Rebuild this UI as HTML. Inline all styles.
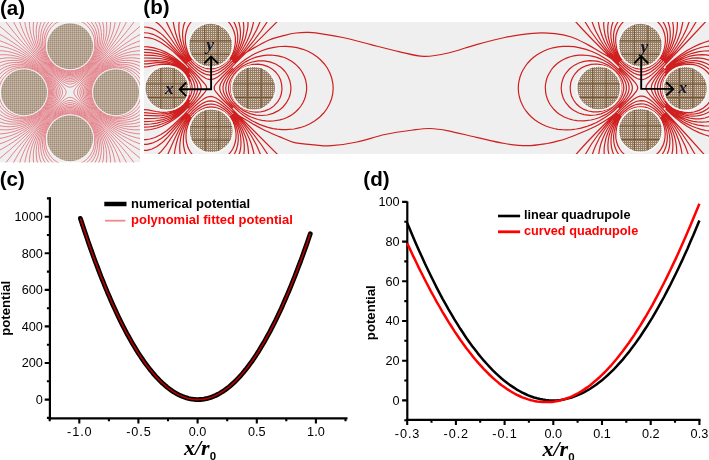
<!DOCTYPE html>
<html><head><meta charset="utf-8"><title>Quadrupole potential figure</title>
<style>html,body{margin:0;padding:0;background:#fff;width:709px;height:460px;overflow:hidden}svg{display:block}</style>
</head><body>
<svg width="709" height="460" viewBox="0 0 709 460">
<rect width="709" height="460" fill="#fff"/>
<defs>
<pattern id="pa" width="2" height="2" patternUnits="userSpaceOnUse"><rect width="2" height="2" fill="#b4a391"/><rect x="0" y="0" width="1" height="1" fill="#a08c78"/><rect x="1" y="1" width="1" height="1" fill="#c8b9aa"/></pattern>
<pattern id="pb" width="2" height="2" patternUnits="userSpaceOnUse"><rect width="2" height="2" fill="#987e63"/><rect x="1" y="1" width="1" height="1" fill="#d8d0c4"/></pattern>
<clipPath id="ca"><rect x="0" y="22" width="140" height="140.5"/></clipPath>
<clipPath id="cb"><rect x="144" y="22" width="565" height="132"/></clipPath>
<clipPath id="cc"><rect x="48" y="190" width="300" height="229"/></clipPath>
<clipPath id="cd"><rect x="406" y="190" width="295" height="230"/></clipPath>
</defs>
<g clip-path="url(#ca)">
<rect x="0" y="22" width="140" height="140.5" fill="#efefef"/>
<path fill="none" stroke="#e2707a" stroke-width="0.85" d="M27.1 115.8L30.1 115.1 32.2 114.4 35 113 37.1 111.8 39.9 109.6 41.4 108.1 44.1 104.6 46.1 100.4 46.9 97.6 47.6 94.1 47.6 90.6 47.3 89.2 46.9 86.4 46.2 84.3 44.8 81.5 44.1 80.1 42.1 77.3 39.2 74.4 34.3 71.1 30.8 69.6 26.6 68.7 23.1 68.4 20.3 68.5 17.5 69 15.4 69.6 13.3 70.3 11.2 71.4 9.1 72.7 7 74.4 4.9 76.4 3.5 78 2.1 80.1 1 82.2 0.1 84.3 -0.5 86.4 -1 88.5 -1.2 91.3 -1.2 94.1 -1 96.2 -0.3 99 0.4 101.1 2.1 104.6 3.6 106.7 4.9 108.3 6.9 110.2 8.7 111.6 11 113 13.3 114.1 16 115.1 18.2 115.6 22.4 116.2 25.2 116.1 27.1 115.8M120.6 115.8L121.8 115.6 124.6 114.9 127.4 113.8 129.5 112.7 131.3 111.6 133.1 110.2 135.1 108.3 136.4 106.7 137.9 104.6 139 102.5 139.9 100.4 140.5 98.3 141 96.2 141.2 93.4 141.2 90.6 141 88.5 140.3 85.7 139.6 83.6 138.7 81.5 137.5 79.4 135.9 77.3 134.6 75.9 130.9 72.7 128.8 71.4 126.7 70.3 124.6 69.6 122.5 69 119.7 68.5 118.3 68.4 112.7 68.8 109.2 69.6 105.7 71.1 100.8 74.4 97.9 77.3 95.9 80.1 95.2 81.5 93.8 84.3 93.1 86.4 92.7 89.2 92.4 90.6 92.4 94.1 93.1 97.6 93.9 100.4 94.5 101.8 96.4 105.3 98.6 108.1 100.1 109.6 103.6 112.3 107.8 114.4 109.9 115.1 113.4 115.9 115.5 116.1 118.3 116.2 120.6 115.8M25 117.2L27.3 116.8 31.5 115.5 34.3 114.2 37.1 112.6 40.2 110.2 42 108.4 44.4 105.3 46.4 101.8 47.6 98.3 48.4 94.8 48.6 92.7 48.5 90.6 47.7 86.4 47 84.3 45.3 80.8 43.5 78 42 76.2 39.5 73.8 37.1 72 34.3 70.3 30.8 68.8 27.3 67.8 23.8 67.3 20.3 67.2 16.8 67.6 13.3 68.5 10.4 69.6 7.7 71.1 4.9 73.1 2.6 75.2 0.3 78 -1.4 80.8M-1.4 103.8L0.9 107.4 3.4 110.2 6.3 112.5 9.4 114.4 13.3 116 16.8 116.9 21.7 117.4 25 117.2M121.1 117.2L123.9 116.8 127.3 115.8 130.2 114.6 133 113 135.8 110.9 137.9 108.8 139.6 106.7 141.4 103.8M141.4 80.8L139.7 78 137.4 75.2 135.1 73.1 132.2 71 128.8 69.3 126 68.2 122.5 67.5 119 67.2 115.5 67.4 112.7 67.8 109.2 68.8 105 70.7 100.8 73.5 99 75.2 97 77.3 94.7 80.8 93.3 83.6 92.3 86.4 91.5 90.6 91.4 92.7 91.5 94.1 92 96.9 93.1 100.4 94.4 103.2 95.9 105.7 98.4 108.8 100.1 110.5 103.6 113.1 107.1 114.9 109.9 116 114.1 117.1 117.6 117.4 121.1 117.2M23.2 118.6L26.6 118 30.1 117 33.6 115.5 36.4 113.9 39.9 111.3 41.9 109.5 44.2 106.7 45.7 104.6 47.2 101.8 48.3 99 49.2 95.5 49.5 92.7 49.3 89.9 48.6 86.4 47.6 83.6 46.2 80.8 44.3 78 42 75.2 39.9 73.2 36.4 70.6 33.6 69 30.8 67.8 26.6 66.5 23.1 66 19.6 65.8 16.1 66 12.6 66.7 9.8 67.6 6.3 69.2 3.5 71 0.9 73.1 -1.4 75.5M-1.4 109.1L1 111.6 3.7 113.7 6.3 115.3 9.8 116.9 12.6 117.8 16.1 118.5 19.6 118.7 23.2 118.6M122.7 118.6L125.3 118.2 128.1 117.6 130.9 116.6 133 115.7 135.3 114.4 137.3 113 139.7 110.9 141.4 109.1M141.4 75.5L139.1 73.1 135.8 70.5 133 68.9 129.5 67.4 126 66.4 122.5 65.9 119 65.8 114.8 66.3 111.3 67.1 107.8 68.4 104.3 70.2 100.8 72.7 98 75.2 96.2 77.3 94.3 80.1 92.4 83.6 91.4 86.4 90.7 89.9 90.5 92.7 90.8 95.5 91.7 99 93.1 102.5 94.8 105.3 97.5 108.8 99.4 110.7 102.9 113.5 106.4 115.5 109.2 116.8 112.7 117.9 115.5 118.4 119 118.7 122.7 118.6M22.7 120L25.9 119.4 29.4 118.3 32.9 116.8 35.7 115.3 38.5 113.4 41.3 111 43.4 108.8 45.7 106 47.4 103.2 48.7 100.4 49.9 96.9 50.4 94.1 50.5 91.3 50.1 88.5 49.4 85.7 48.2 82.9 46.2 79.4 44.2 76.6 42 74.2 39.2 71.7 35.7 69.3 32.9 67.7 29.4 66.3 25.9 65.2 21.7 64.4 18.2 64.2 14.7 64.4 11.2 65 7.7 66 4.2 67.4 1.4 69 -1.4 71.1M-1.4 113.5L0.8 115.1 3.5 116.7 6.3 118 9.8 119.2 12.6 119.8 16.1 120.2 19.6 120.3 22.7 120M126.3 120L130.2 119.2 134.4 117.8 138.2 115.8 141.4 113.5M141.4 71.1L138.4 68.9 135.1 67.1 131.6 65.7 128.1 64.8 124.6 64.3 120.4 64.3 116.9 64.6 112.7 65.6 108.5 67.1 105 68.9 101.5 71.2 98.7 73.5 95.9 76.5 93.8 79.4 91.8 82.9 90.4 86.4 89.7 89.9 89.5 92.7 89.8 95.5 90.7 99 92.2 102.5 93.9 105.3 96.6 108.8 98.7 111 102.2 113.9 105 115.7 108.5 117.5 112 118.8 115.5 119.7 119 120.2 122.5 120.3 126.3 120M22.8 121.4L26.6 120.4 30.1 119.2 33.6 117.5 36.4 115.8 39.2 113.8 42 111.3 44.4 108.8 46.6 106 48.7 102.5 50 99.7 50.9 96.9 51.5 94.1 51.6 92 51.3 89.2 50.6 86.4 49.5 83.6 48 80.8 45.6 77.3 43.3 74.5 40.6 72 37.1 69.2 34.3 67.5 30.8 65.7 27.3 64.4 23.8 63.4 20.3 62.7 16.1 62.4 12.6 62.6 9.1 63 5.3 64 1.7 65.4 -1.4 67M-1.4 117.5L1.4 119 3.8 120 7 121 9.8 121.6 12.6 122 16.1 122.1 19.6 121.9 22.8 121.4M131.3 121.4L133.7 120.8 136.5 119.9 139.3 118.7 141.4 117.5M141.4 67L137.9 65.2 133.7 63.7 130.2 62.9 126 62.5 121.8 62.5 117.6 63.1 113.4 64.1 109.9 65.4 106.4 67.1 102.9 69.2 99.4 72 96.1 75.2 93.3 78.7 91.2 82.2 89.6 85.7 88.7 89.2 88.4 92.7 88.7 95.5 89.7 99 91.3 102.5 93.4 106 95.6 108.8 98.3 111.6 101.5 114.3 104.3 116.2 107.8 118.2 111.3 119.7 115.5 121 119 121.7 123.2 122.1 127.4 122 131.3 121.4M13 124.2L16.8 124 21 123.3 24.5 122.4 28 121.2 31.5 119.6 35 117.7 38.5 115.3 42 112.3 44.8 109.5 47 106.7 49.3 103.2 50.8 100.4 52 96.9 52.6 94.1 52.7 91.3 52.3 88.5 51.4 85.7 49.8 82.2 47.6 78.7 44.8 75.1 42 72.2 38.5 69.3 35 66.9 30.8 64.6 27.3 63.1 23.1 61.7 18.9 60.8 14.7 60.4 10.5 60.4 6.3 60.9 2.1 61.8 -1.4 63.1M-1.4 121.4L2.1 122.7 5.6 123.5 9.1 124 13 124.2M127.7 124.2L130.9 124 134.6 123.5 137.9 122.7 141.4 121.4M141.4 63.1L137.9 61.8 133.7 60.9 129.5 60.4 125.3 60.4 121.1 60.8 116.9 61.7 112.7 63.1 109.2 64.6 105 66.9 101.5 69.3 98 72.2 95.2 75.1 92.4 78.7 90.2 82.2 88.6 85.7 87.7 88.5 87.3 91.3 87.4 94.1 88 96.9 89.2 100.4 90.7 103.2 93 106.7 95.9 110.2 98.7 113 101.5 115.3 105 117.7 108.5 119.6 112.7 121.5 116.2 122.7 120.4 123.6 123.9 124.1 127.7 124.2M15.1 126.3L18.9 125.6 22.4 124.7 26.6 123.2 30.1 121.6 33.6 119.6 37.1 117.3 40.6 114.6 43.4 112 46.3 108.8 48.5 106 50.8 102.5 52.2 99.7 53.2 96.9 53.8 94.1 53.9 91.3 53.5 88.5 52.6 85.7 50.9 82.2 48.6 78.7 45.5 74.8 42.7 71.9 39.2 68.8 35.7 66.3 31.5 63.7 27.3 61.7 23.1 60.1 18.9 58.9 14.7 58.2 10.5 57.8 6.3 57.9 2.1 58.4 -1.4 59.1M-1.4 125.4L2.8 126.3 7 126.7 11.2 126.7 15.1 126.3M137.1 126.3L141.4 125.4M141.4 59.1L137.2 58.3 133 57.8 128.8 57.9 124.6 58.3 119.7 59.3 115.5 60.6 111.3 62.3 107.1 64.5 102.9 67.2 98.7 70.6 95.4 73.8 92.4 77.3 90 80.8 88 84.3 86.7 87.8 86.1 91.3 86.2 94.1 87 97.6 88.5 101.1 90.5 104.6 93.1 108.1 96.2 111.6 99.4 114.6 103.6 117.8 107.8 120.4 111.3 122.2 115.5 124 119.7 125.3 123.9 126.1 128.8 126.7 133 126.7 137.1 126.3M6.7 129.8L11.2 129.4 15.4 128.6 19.6 127.4 23.8 125.9 28 124 32.2 121.7 35.7 119.4 39.2 116.7 42.7 113.7 46.1 110.2 49 106.7 51.5 103.2 53.4 99.7 54.5 96.9 55.2 93.4 55.1 90.6 54.5 87.8 53.1 84.3 51.1 80.8 48.1 76.6 45 73.1 41.3 69.6 37.8 66.7 33.6 63.8 29.4 61.3 25.2 59.3 20.3 57.4 16.1 56.2 11.2 55.2 7 54.8 2.8 54.7 -1.4 55M-1.4 129.5L2.8 129.8 6.7 129.8M138.3 129.8L141.4 129.5M141.4 55L137.2 54.7 132.3 54.8 128.1 55.3 123.2 56.3 118.3 57.9 114.1 59.6 109.9 61.7 105.7 64.2 101.5 67.2 97.3 70.8 93.7 74.5 90.8 78 88 82.2 86.2 85.7 85.1 89.2 84.8 92 85 94.8 86 98.3 87.7 101.8 89.9 105.3 93.2 109.5 96.6 113 100.1 116.2 104.3 119.4 108.5 122.1 112.7 124.3 116.9 126.2 121.1 127.6 125.3 128.7 129.5 129.4 133.7 129.8 138.3 129.8M6 133.3L10.5 132.4 14.7 131.3 18.9 129.8 23.1 128 27.3 125.9 31.5 123.4 35.7 120.5 39.2 117.8 43.1 114.4 46.5 110.9 50.1 106.7 52.6 103.2 54.7 99.7 55.9 96.9 56.5 94.1 56.6 91.3 56.1 88.5 54.8 85 52.8 81.5 50.2 78 46.7 73.8 42.7 69.8 38.5 66.2 34.3 63 30.1 60.3 25.9 57.9 21.7 55.9 16.8 54 11.9 52.5 7.7 51.5 2.8 50.9 -1.4 50.6M-1.4 133.9L2.1 133.8 6 133.3M141.4 50.6L137.2 50.9 132.3 51.5 128.1 52.5 123.2 54 118.3 55.9 114.1 57.9 109.2 60.7 105 63.5 100.8 66.7 96.6 70.5 92.7 74.5 89.2 78.7 86.8 82.2 84.9 85.7 83.7 89.2 83.3 92 83.6 94.8 84.7 98.3 86.5 101.8 89.3 106 92.8 110.2 96.6 114.1 100.8 117.8 105 121.1 109.2 123.9 114.1 126.7 118.3 128.7 123.2 130.6 128.1 132.1 132.3 133 137.2 133.7 141.4 133.9M-1.4 138.7L3.5 137.8 8.4 136.4 12.6 135 17.5 132.9 21.7 130.8 26.6 128.1 30.8 125.4 35.7 121.8 40.6 117.7 44.9 113.7 49.5 108.8 52.9 104.6 55.3 101.1 57.1 97.6 58 94.8 58.3 92 57.9 89.2 56.9 86.4 55 82.9 52.5 79.4 49 75.2 44.8 70.8 40.6 66.8 35.7 62.8 31.5 59.7 26.6 56.5 21.7 53.7 17.5 51.6 12.6 49.6 8.4 48.1 3.5 46.8 -1.4 45.8M141.4 45.8L136.5 46.8 131.6 48.1 127.4 49.6 122.5 51.6 118.3 53.7 113.4 56.5 108.5 59.7 104.3 62.8 99.4 66.8 95.2 70.8 91 75.2 87.5 79.4 85 82.9 83.1 86.4 82.1 89.2 81.7 92 82 94.8 82.9 97.6 84.7 101.1 87.1 104.6 90.5 108.8 95.1 113.7 99.4 117.7 104.3 121.8 109.2 125.4 113.4 128.1 118.3 130.8 122.5 132.9 127.4 135 131.6 136.4 136.5 137.8 141.4 138.7M-1.4 144.2L2.8 142.8 7.7 140.8 12.6 138.4 17.5 135.8 22.4 132.8 27.3 129.5 32.2 125.9 37.1 121.9 42 117.5 46.7 113 51.2 108.1 54.7 103.9 57.2 100.4 59.1 96.9 60 94.1 60.2 92 59.7 89.2 58.6 86.4 56.9 83.6 54.3 80.1 50.7 75.9 46.1 71 41.3 66.4 36.4 62.1 31.5 58.1 26.6 54.5 22.4 51.7 17.5 48.8 12.6 46.1 8.4 44.1 3.5 42.1 -1.4 40.3M141.4 40.3L136.5 42.1 131.6 44.1 127.4 46.1 122.5 48.8 117.6 51.7 113.4 54.5 108.5 58.1 103.6 62.1 98.7 66.4 93.9 71 89.3 75.9 85.7 80.1 83.1 83.6 81.4 86.4 80.3 89.2 79.8 92 80 94.1 80.9 96.9 82.8 100.4 85.3 103.9 88.8 108.1 93.3 113 98 117.5 102.9 121.9 107.8 125.9 112.7 129.5 117.6 132.8 122.5 135.8 127.4 138.4 132.3 140.8 137.2 142.8 141.4 144.2M-1.4 150.8L7.7 145.6 13.3 142 18.2 138.6 28 131.1 32.9 126.9 38.5 121.9 44.1 116.6 49.1 111.6 54.3 106 57.9 101.8 59.9 99 61.5 96.2 62.3 94.1 62.5 92 62.2 89.9 61.3 87.8 59.6 85 56.9 81.5 53.2 77.3 48.6 72.4 43.4 67.2 37.8 62 28 53.5 18.2 46 8.4 39.4 3.5 36.4 -1.4 33.8M141.4 33.8L136.5 36.4 131.6 39.4 121.8 46 112 53.5 102.2 62 96.6 67.2 91.4 72.4 86.8 77.3 83.1 81.5 80.4 85 78.7 87.8 77.8 89.9 77.5 92 77.7 94.1 78.5 96.2 80.1 99 82.1 101.8 85.7 106 90.9 111.6 95.9 116.6 101.5 121.9 107.1 126.9 112 131.1 121.8 138.6 126.7 142 132.3 145.6 141.4 150.8M-1.4 159.4L9.8 149.9 21.7 139.2 33.6 128 46.2 115.6 57 104.6 62.8 98.3 65.4 94.8 66 93.4 66.1 92 65.8 90.6 65.1 89.2 64.1 87.8 61.8 85 55.2 78 44.1 66.8 31.5 54.5 20.3 44.1 9.1 34.1 -1.4 25.2M141.4 25.2L130.9 34.1 119.7 44.1 108.5 54.5 95.9 66.8 84.8 78 78.2 85 75.9 87.8 74.9 89.2 74.2 90.6 73.9 92 74 93.4 74.6 94.8 77.2 98.3 83 104.6 93.8 115.6 106.4 128 118.3 139.2 130.2 149.9 141.4 159.4M70.7 87.1L69.3 87.1 67.2 86.5 65.1 85.2 63 83.6 55.3 76.7 44.5 66.1 33.2 54.2 22.4 42.3 13 31.1 4.9 20.6M135.1 20.6L127.5 30.4 119.4 40.2 109.4 51.4 98.9 62.6 88.2 73.3 79.1 81.8 76.3 84.2 74.2 85.7 72.1 86.8 70.7 87.1M4.9 164L12.4 154.3 21.1 143.8 31.7 131.9 43 120 54.6 108.5 62.3 101.5 64.4 99.8 66.5 98.4 68.6 97.5 70 97.3 71.4 97.5 73.5 98.4 75.6 99.8 77.7 101.5 85.4 108.5 97 120 108.3 131.9 118.9 143.8 127.6 154.3 135.1 164M72.8 83.6L70.7 84.1 69.3 84.1 67.9 83.8 65.1 82.7 62.3 81 58.8 78.4 53.9 74.1 49 69.5 43.6 64 39.1 59.1 34.4 53.5 29.9 47.9 25.8 42.3 22 36.7 18.5 31.1 15.8 26.2 12.9 20.6M127.1 20.6L125 24.8 122.3 29.7 116.6 38.8 110.1 47.9 102.7 57 98.3 61.9 93.7 66.8 88.9 71.5 84.7 75.4 81.2 78.4 77.7 81 74.9 82.7 72.8 83.6M13.2 163.4L15.7 158.5 18.5 153.6 21.5 148.7 24.7 143.8 28.2 138.9 32.6 133.3 40.9 123.5 45.5 118.6 50.4 113.7 55.3 109.1 59.5 105.6 63 103 65.8 101.4 67.9 100.7 70 100.4 72.1 100.7 74.2 101.4 77 103 80.5 105.6 84.7 109.1 89.6 113.7 94.5 118.6 99.1 123.5 107.4 133.3 111.8 138.9 115.3 143.8 118.5 148.7 121.5 153.6 124.3 158.5 126.8 163.4M72.8 81.5L70 81.9 67.2 81.5 64.4 80.5 60.9 78.4 56.7 75.3 51.8 71.1 47.4 66.8 42.9 61.9 38.7 57 35 52.1 31.2 46.5 28.3 41.6 25.6 36.7 23 31.1 20.8 25.5 19.3 20.6M120.7 20.6L119.4 24.8 117.9 29 115.8 33.9 113.7 38.1 110.9 43 108.3 47.2 105.5 51.4 101.8 56.3 97.8 61.2 93.9 65.4 89.6 69.7 85.4 73.6 81.9 76.4 78.4 78.9 75.6 80.5 72.8 81.5M19.5 163.4L21 158.5 23 153.6 25.2 148.7 27.8 143.8 30.7 138.9 33.9 134 37.5 129.1 40.9 124.9 45.2 120 49.3 115.8 53.9 111.6 58.1 108.1 61.6 105.6 64.4 104 67.2 103 70 102.6 72.8 103 75.6 104 78.4 105.6 81.9 108.1 86.1 111.6 90.7 115.8 94.8 120 99.1 124.9 102.5 129.1 106.1 134 109.3 138.9 112.2 143.8 114.8 148.7 117 153.6 119 158.5 120.5 163.4M73.5 79.6L70.7 80.1 68.6 80 67.2 79.8 64.4 78.8 60.9 77 56.7 74.1 51.8 70 47.1 65.4 42.8 60.5 39.6 56.3 36.2 51.4 33.3 46.5 30.5 40.9 28.5 36 26.8 31.1 25.4 25.5 24.6 20.6M115.4 20.6L114.7 24.8 113.8 29 112.3 33.9 110.7 38.1 108.8 42.3 106.3 47.2 103.8 51.4 100.9 55.6 97.8 59.8 94.2 64 90.3 68 86.8 71.2 82.6 74.6 79.1 77 76.3 78.5 73.5 79.6M24.7 163.4L25.6 158.5 26.8 153.6 28.4 148.7 30.2 144.5 32.5 139.6 34.9 135.4 38 130.5 41 126.3 45 121.4 49 117.2 53.2 113.3 57.4 109.9 60.9 107.5 64.4 105.7 67.2 104.8 70 104.4 72.8 104.8 75.6 105.7 79.1 107.5 82.6 109.9 86.8 113.3 91 117.2 95 121.4 99 126.3 102 130.5 105.1 135.4 107.5 139.6 109.8 144.5 111.6 148.7 113.2 153.6 114.4 158.5 115.3 163.4M73.5 78.1L70.7 78.5 68.6 78.4 67.2 78.2 63.7 77.1 60.2 75.3 55.3 71.9 51.1 68.3 46.9 64 43.4 59.8 40.4 55.6 37.4 50.7 34.6 45.1 32.7 40.2 31.2 35.3 30.1 30.4 29.5 25.5 29.4 20.6M110.6 20.6L110.5 24.8 110.1 29 109.3 33.2 108 38.1 106.5 42.3 104.7 46.5 102.6 50.7 100.1 54.9 97.1 59.1 94.3 62.6 91 66.2 87.5 69.5 83.3 72.9 79.8 75.3 76.3 77.1 73.5 78.1M29.4 163.5L29.5 159.2 30.1 154.3 31.1 149.4 32.4 145.2 34 141 36.2 136.1 39 131.2 41.7 127 44.9 122.8 48.7 118.6 52.5 115 56.7 111.5 60.2 109.2 63.7 107.4 67.2 106.3 70 106 72.8 106.3 76.3 107.4 79.8 109.2 83.3 111.5 87.5 115 91.3 118.6 95.1 122.8 98.3 127 101 131.2 103.8 136.1 106 141 107.6 145.2 108.9 149.4 109.9 154.3 110.5 159.2 110.6 163.5M73.5 76.7L70 77.1 66.5 76.7 63 75.5 59.5 73.7 55.3 70.8 51.1 67.2 47.3 63.3 43.5 58.4 40.8 54.2 38.2 49.3 36.2 44.4 34.7 39.5 33.7 34.6 33.2 29.7 33.3 24.8 33.7 20.6M106.3 20.6L106.7 24.8 106.8 29 106.5 33.2 105.8 37.4 104.7 41.6 103.3 45.8 101.4 50 99.2 54.2 96.5 58.4 93.9 61.9 90.8 65.4 87.5 68.5 84 71.3 79.8 74.1 76.3 75.8 73.5 76.7M33.7 163.4L33.3 159.2 33.3 154.3 33.8 149.4 34.7 145.2 36.2 140.3 37.9 136.1 39.9 131.9 42.4 127.7 45.4 123.5 48.4 120 51.8 116.6 56 113.1 60.2 110.4 63.7 108.7 67.2 107.7 70 107.4 72.8 107.7 76.3 108.7 79.8 110.4 84 113.1 88.2 116.6 91.6 120 94.6 123.5 97.6 127.7 100.1 131.9 102.1 136.1 103.8 140.3 105.3 145.2 106.2 149.4 106.7 154.3 106.7 159.2 106.3 163.4M74.2 75.3L70.7 75.8 67.2 75.6 63.7 74.6 59.5 72.6 55.3 69.8 51.1 66.2 47.7 62.6 44.5 58.4 42 54.2 39.7 49.3 38 44.4 36.8 39.5 36.3 34.6 36.2 29.7 36.8 24.8 37.8 20.6M102.2 20.6L103.1 24.1 103.7 28.3 103.8 32.5 103.6 36.7 102.9 40.9 101.8 45.1 100.3 49.3 98.4 53.5 95.9 57.7 93.4 61.2 90.4 64.7 87.5 67.5 84 70.3 80.5 72.6 77 74.3 74.2 75.3M37.8 163.8L36.7 159.2 36.3 155 36.2 150.8 36.7 145.9 37.6 141.7 39.1 136.8 40.9 132.6 43.1 128.4 45.9 124.2 48.8 120.7 52.3 117.2 56 114.2 59.5 111.9 63 110.2 66.5 109.1 70 108.7 73.5 109.1 77 110.2 80.5 111.9 84 114.2 87.7 117.2 91.2 120.7 94.1 124.2 96.9 128.4 99.1 132.6 100.9 136.8 102.4 141.7 103.3 145.9 103.8 150.8 103.7 155 103.3 159.2 102.2 163.8M71.4 74.6L67.9 74.5 64.4 73.7 60.9 72.3 56.7 69.8 53.2 67.1 49.7 63.7 46.5 59.8 43.9 55.6 41.9 51.4 40.2 46.5 39.1 41.6 38.6 37.4 38.7 33.2 39.2 28.8 40.2 24.8 41.8 20.6M98.2 20.6L99.6 24.1 100.7 28.3 101.3 32.5 101.4 36.7 101 40.9 100 45.8 98.7 50 96.9 54.2 94.4 58.4 91.9 61.9 88.7 65.4 85.4 68.3 81.9 70.7 78.4 72.6 74.9 73.9 71.4 74.6M41.6 163.4L40 159.2 39.1 155 38.6 150.8 38.7 146.6 39.3 141.7 40.3 137.5 41.8 133.3 43.8 129.1 46.4 124.9 49.1 121.4 52.5 118 56 115.1 59.5 112.9 63 111.3 66.5 110.3 70 109.9 73.5 110.3 77 111.3 80.5 112.9 84 115.1 87.5 118 90.9 121.4 93.6 124.9 96.2 129.1 98.2 133.3 99.7 137.5 100.7 141.7 101.3 146.6 101.4 150.8 100.9 155 100 159.2 98.4 163.4M73.5 73.2L71.4 73.5 69.3 73.5 65.8 73 62.3 71.9 58.1 69.8 54.6 67.3 50.9 64 47.5 59.8 44.9 55.6 43 51.4 41.6 46.5 40.8 41.6 40.6 37.4 41.1 32.5 42.1 28.3 43.8 24.1 45.8 20.6M94.2 20.6L96.2 24.1 97.6 27.6 98.6 31.1 99.2 35.3 99.3 39.5 98.9 43.7 98 47.9 96.7 52.1 95.1 55.6 93 59.1 90.3 62.6 87.5 65.5 84 68.4 80.5 70.6 77 72.2 73.5 73.2M45.5 163.4L43.6 159.9 42.2 156.4 41.2 152.2 40.7 148 40.7 143.8 41.4 138.9 42.5 134.7 44.2 130.5 46.4 126.3 48.9 122.8 51.8 119.6 55.3 116.6 58.8 114.3 63 112.3 66.5 111.3 70 111 73.5 111.3 77 112.3 81.2 114.3 84.7 116.6 88.2 119.6 91.1 122.8 93.6 126.3 95.8 130.5 97.5 134.7 98.6 138.9 99.3 143.8 99.3 148 98.8 152.2 97.8 156.4 96.4 159.9 94.5 163.4M71.4 72.4L69.3 72.5 67.2 72.3 63.7 71.4 60.2 70 56 67.5 52.5 64.6 49.5 61.2 47 57.7 44.9 53.5 43.6 49.3 42.6 44.4 42.4 40.2 42.7 36 43.6 31.8 45.3 27.6 47.2 24.1 49.9 20.6M90.1 20.6L92.8 24.1 94.7 27.6 96.1 31.1 97.2 35.3 97.6 38.8 97.5 43 96.8 47.9 95.6 52.1 94.1 55.6 92.1 59.1 88.7 63.3 86.1 65.8 82.6 68.4 78.4 70.6 74.9 71.8 71.4 72.4M49.7 163.6L46.9 159.9 45 156.4 43.7 152.9 42.8 148.7 42.4 144.5 42.6 140.3 43.4 136.1 44.6 131.9 46.5 127.7 49.3 123.5 51.8 120.6 55.3 117.6 58.8 115.2 63 113.3 66.5 112.4 70 112.1 73.5 112.4 77 113.3 81.2 115.2 84.7 117.6 88.2 120.6 90.7 123.5 93.5 127.7 95.4 131.9 96.6 136.1 97.4 140.3 97.6 144.5 97.2 148.7 96.3 152.9 95 156.4 93.1 159.9 90.3 163.6M74.2 71L70.7 71.5 68.6 71.4 66.5 71.2 63.7 70.5 61.6 69.7 57.4 67.5 53.2 64.3 51 61.9 47.9 57.7 45.9 53.5 45.2 51.4 44.7 49.3 44 43.7 44.1 39.5 44.8 35.3 46.3 31.1 48.3 27.3 51.1 23.7 52.9 22 54.6 20.6M85.4 20.6L88.2 23 91 26.3 93.1 29.7 94.6 33.2 95.5 36.7 96 40.9 95.9 45.1 95.2 50 94.1 53.5 92.5 57 90.3 60.3 87.5 63.6 84 66.6 81.2 68.3 77.7 70 74.2 71M54.6 163.9L51.8 161.5 49 158.2 46.9 154.8 45.3 150.8 44.3 146.6 43.9 142.4 44.3 137.5 45.2 133.3 46.8 129.1 48.7 125.6 51.3 122.1 54.6 119 58.1 116.5 60.2 115.4 62.3 114.5 65.8 113.5 70 113.1 74.2 113.5 77.7 114.5 79.8 115.4 81.9 116.5 85.4 119 88.7 122.1 91.3 125.6 93.2 129.1 94.8 133.3 95.7 137.5 96.1 142.4 95.7 146.6 94.7 150.8 93.1 154.8 91 158.2 88.2 161.5 85.4 163.9M72.8 70.4L70.7 70.5 67.9 70.4 66.5 70.3 64.4 69.8 60.9 68.5 56.7 66.2 53.2 63.4 50.2 59.8 48 56.3 46.9 53.5 46.2 51.4 45.5 46.5 45.4 41.6 46.1 37.4 47.6 33.2 49.7 29.5 51.1 27.6 53.2 25.4 54.6 24.1 56.7 22.6 60.5 20.6M79.5 20.6L83.3 22.6 86.2 24.8 87.6 26.2 89.4 28.3 91.7 31.8 93.5 36 94.1 38.1 94.5 40.2 94.7 43.7 94.2 49.3 93.8 51.4 93.4 52.8 91.6 57 89.8 59.8 86.8 63.4 83.3 66.2 79.8 68.2 76.3 69.6 72.8 70.4M60.2 163.8L58.1 162.7 56 161.4 54 159.9 52.5 158.5 49.7 155.1 47.7 151.5 46.8 149.4 46.2 147.3 45.4 143.1 45.4 138.9 46 134 46.6 131.9 47.7 129.1 49.1 126.3 51.6 122.8 54.6 119.9 58.1 117.3 60.2 116.2 62.3 115.4 65.8 114.4 70 114.1 74.2 114.4 77.7 115.4 79.8 116.2 81.9 117.3 85.4 119.9 88.4 122.8 90.9 126.3 92.3 129.1 93.4 131.9 94 134 94.6 138.9 94.6 143.1 93.8 147.3 93.2 149.4 92.3 151.5 90.3 155.1 87.5 158.5 86 159.9 84 161.4 81.9 162.7 79.8 163.8"/>
<circle cx="70" cy="46.25" r="24" fill="#f3f3f3"/>
<circle cx="70" cy="46.25" r="23" fill="url(#pa)"/>
<circle cx="70" cy="138.25" r="24" fill="#f3f3f3"/>
<circle cx="70" cy="138.25" r="23" fill="url(#pa)"/>
<circle cx="24" cy="92.25" r="24" fill="#f3f3f3"/>
<circle cx="24" cy="92.25" r="23" fill="url(#pa)"/>
<circle cx="116" cy="92.25" r="24" fill="#f3f3f3"/>
<circle cx="116" cy="92.25" r="23" fill="url(#pa)"/>
</g>
<g clip-path="url(#cb)">
<rect x="144" y="22" width="565" height="132" fill="#efefef"/>
<path fill="none" stroke="#cf1f1f" stroke-width="1.2" d="M618.7 108L625.3 101 629.2 96 631.5 92 632.1 90 632.4 88 632.2 86 631.6 84 629.5 80 625.6 75 619 68M233 67.8L227.3 74 222.7 80 220.5 84 219.9 86 219.7 88 219.9 90 220.5 92 222.7 96 227.3 102 233 108M664 67.9L658.6 74 654.1 80 652 84 651.5 86 651.3 88 651.5 90 652.1 92 654.1 96 658.5 102 664 108.2M188 108.3L193.7 102 198.2 96 200.3 92 200.9 90 201.1 88 200.9 86 200.2 84 198 80 193.4 74 187.8 68M710 45.9L706 46.5 701 47.5 697 48.7 692 50.6 688 52.4 683 55.1 679 57.5 674 61.1 670 64.3 666 68.1 662.4 72 659.3 76 657.4 79 655.9 82 654.9 85 654.6 88 654.9 91 655.9 94 657.3 97 659.9 101 663.1 105 667 109.2 671 112.9 675 116.2 683 121.7 688 124.4 692 126.3 696 127.8 701 129.4 706 130.5 710 131.1M294.1 129L300 127.7 305.1 126 310 123.8 315 120.8 319.8 117 323.7 113 326.7 109 329.5 104 331.5 99 332.7 94 333.2 88 332.8 83 331.7 78 329.9 73 327.3 68 324.4 64 320.7 60 317.3 57 313 54 308 51.3 303 49.3 297 47.6 292 46.8 286 46.3 280 46.5 274 47.3 268 48.6 263 50.2 257 52.7 252 55.2 246 58.9 241 62.6 235 67.9 230.3 73 226 79 224.4 82 223.6 84 223.1 86 223 88 223.1 90 223.6 92 224.3 94 225.9 97 229.4 102 232 105 236 109 240 112.6 244 115.7 252 120.8 260 124.6 268 127.4 273 128.6 277 129.2 282 129.7 286 129.7 294.1 129M576.4 129L581 128.1 586 126.7 591 124.9 596 122.7 600 120.6 605 117.6 610 114 614 110.7 618.8 106 622.4 102 625.4 98 627.2 95 628.5 92 629.1 89 629 86 628.3 83 626.3 79 623.5 75 619.1 70 614 65.1 609 61.1 604 57.7 598 54.3 592 51.5 586 49.4 580 47.8 574 46.7 569 46.3 563 46.4 558 46.9 553 47.8 548 49.3 543.9 51 540 53 536.7 55 533 57.8 530.6 60 527.8 63 525.5 66 523 70 521.5 73 520 77 519 81 518.4 85 518.3 89 518.6 93 519.4 97 520.6 101 522.4 105 524 108 526 111 528.5 114 531.4 117 535 120 538 122 542 124.3 545.8 126 550 127.5 554 128.5 558 129.3 562 129.7 567 129.9 572 129.6 576.4 129M148.7 127L153 126.4 157 125.6 161 124.3 165 122.8 169 120.9 173 118.6 180 113.6 184 110.2 187.2 107 190.7 103 193.7 99 195.5 96 196.8 93 197.6 90 197.7 87 197.1 84 195.8 81 194.1 78 191.2 74 187.7 70 184 66.4 180 62.9 176 59.9 172 57.4 168 55.2 164 53.4 160 52 156 50.9 152 50.1 148 49.6 143 49.5M143 127.2L148.7 127M705.7 122L710 121.4M710 55.5L706 54.9 702 54.6 698 54.8 694 55.3 690 56.2 686 57.5 681 59.6 677 61.7 673 64.4 669 67.6 666 70.6 663.1 74 660.5 78 659 81 658 84 657.5 87 657.6 90 658.2 93 659.3 96 661.5 100 663.6 103 667 106.9 670 109.7 674 112.9 678 115.5 681 117.1 685 118.9 689 120.3 693 121.3 697 121.9 701 122.2 705.7 122M155.3 121L163 119.6 167 118.3 171 116.7 175 114.6 178 112.7 184 107.9 186.8 105 189.3 102 191.3 99 192.9 96 194.1 93 194.8 90 194.9 88 194.6 85 193.7 82 192.3 79 190.4 76 188.1 73 185.4 70 182 66.8 179 64.5 175 61.9 172 60.3 168 58.6 161 56.5 153 55.4 143 55M143 121.6L149 121.5 155.3 121M273.2 121L280 119.9 284 118.7 287 117.5 290 115.9 293 114 296 111.5 298.5 109 300.9 106 302.8 103 304.2 100 305.3 97 306.2 93 306.6 90 306.6 86 306.2 83 305.6 80 304.6 77 303.2 74 301.5 71 299.2 68 297 65.6 294 63 291.2 61 288 59.2 285 57.8 282 56.8 278 55.8 271 55 267 55.1 263 55.6 256 57.2 250 59.5 246 61.6 243 63.5 237 68.2 234.2 71 231.7 74 229.6 77 227.9 80 226.6 83 226.1 85 225.8 88 225.9 90 226.5 93 227.7 96 229.4 99 231.5 102 234.1 105 237 107.8 240 110.4 244 113.3 248 115.6 251 117 258 119.5 262 120.4 266 120.9 270 121.1 273.2 121M591 120L595 119 599 117.7 606 114.4 610 111.8 613 109.5 618.7 104 621.2 101 623.2 98 625.6 93 626.3 90 626.4 88 626.2 85 625.3 82 623.4 78 621.3 75 618.8 72 615 68.1 612 65.5 608 62.7 604 60.5 600 58.6 596 57.2 592 56.2 588 55.5 583 55.1 579 55.2 575 55.7 571 56.5 567 57.9 564 59.2 560.8 61 557.9 63 555.6 65 553.6 67 551.2 70 548.3 75 547 78 546.2 81 545.6 84 545.3 87 545.7 93 546.4 96 547.4 99 548.7 102 550.4 105 554 109.5 556.6 112 559 113.9 564.2 117 570 119.2 573 120 577 120.7 584 120.9 591 120M166 115L172 113.3 175 111.9 178 110.2 183.4 106 185.3 104 187.6 101 189.4 98 190.8 95 191.7 92 192.1 90 192.2 88 191.9 85 190.3 80 189.3 78 187.3 75 185 72.2 182.8 70 178 66.2 175 64.5 172 63.2 167 61.6 161 60.8 156 60.7 143 61.1M143 115.4L158 115.8 162 115.6 166 115M267.3 115L273 113.4 278 110.9 280.7 109 283 107 286.3 103 289 98 290 95 290.6 92 290.9 89 290.8 86 289.9 81 287.9 76 286.1 73 284.5 71 282.7 69 280.4 67 275.6 64 270 61.9 264 60.8 258 60.9 252 62 247 63.8 242 66.6 237 70.6 234 74 230.9 79 229.6 82 229 84 228.5 88 228.7 91 229.1 93 229.8 95 231.2 98 233 101 234.6 103 239 107.3 244 110.9 250 113.6 256 115.1 262 115.5 267.3 115M595.4 115L601 113.8 607 111.3 612 108.1 617 103.4 620.4 99 621.5 97 622.7 94 623.8 89 623.8 87 623.3 84 622.4 81 621.6 79 620.4 77 618.3 74 616 71.5 613 68.6 608 65.1 602 62.5 597 61.2 593 60.8 590 60.7 584 61.4 578.8 63 574 65.4 569.4 69 566 73 564.7 75 563.2 78 561.7 83 561.2 88 561.7 93 563.2 98 564.7 101 566 103 569.4 107 571.7 109 574 110.6 578.7 113 584 114.6 590 115.3 595.4 115M696.3 116L700 115.4 704 114.3 707 113 710.5 111M710 65.4L707 63.7 703 62.1 700 61.3 696 60.7 693 60.6 689 61 685 61.7 681 62.9 677 64.6 674 66.3 671 68.5 668.2 71 665.6 74 663.5 77 662 80 660.9 83 660.4 86 660.3 89 660.6 92 661.4 95 662.7 98 664.5 101 666.8 104 669 106.3 672 108.8 675 110.9 678 112.6 681 113.9 685 115.1 689 115.9 693 116.1 696.3 116M167.2 112L170 111.5 173 110.6 176 109.2 179 107.5 183.3 104 187 99 189.1 94 190.1 89 190.1 87 189.3 83 188.7 81 187.3 78 184.5 74 180 69.7 176 67.1 173 65.8 169 64.7 165 64.1 161 64.3 156 65 148 66.6 143 67M143 109.5L148 109.8 156 111.5 160 112.1 164 112.3 167.2 112M260.2 112L265 110.9 270 108.7 274 105.9 277.6 102 279.9 98 281.3 94 282 89 281.6 84 280.6 80 278.7 76 275.6 72 272 68.9 268 66.6 263 64.9 258 64.2 253 64.3 247 66 244 67.4 239 70.8 235.8 74 232.9 79 231 84 230.6 88 230.9 92 232.1 96 234.9 101 238.6 105 242.5 108 246 109.9 251 111.5 256 112.2 260.2 112M602.7 111L607 109.4 611.1 107 616 102.4 619.2 98 620.8 94 621.8 88 621.3 84 620.5 81 619.2 78 616 73.6 611.2 69 607 66.5 602 64.8 597 64 591 64.4 586 65.8 582 67.6 578 70.5 574.8 74 572.4 78 570.9 82 570.2 87 570.5 92 571.5 96 573.5 100 576.5 104 579.9 107 584 109.4 588.4 111 593 111.8 598 111.9 602.7 111M694 112L699 110.4 703.4 108 707 105 710.2 101M710.3 76L708.2 73 706.3 71 703.9 69 700.6 67 697 65.5 694 64.7 691 64.4 688 64.4 684 64.8 680 65.7 677 66.8 674 68.4 671 70.6 668.5 73 666 76.3 664.4 79 663.3 82 662.7 85 662.5 89 662.9 93 663.7 96 665.1 99 668.8 104 671 106 674 108.1 678 110.4 680 111.2 684 112.1 688 112.5 691 112.4 694 112M278 20.8L236 62.7 222 77 215.8 84 214.6 86 214.1 88 214.6 90 215.9 92 221.1 98 278.1 155M575.5 155L584.4 145 593.9 135 632.5 96 636.6 91 637.5 89 637.7 88 637.6 87 636.8 85 634.6 82 631.9 79 592.8 40 583.2 30 575 21M706.3 21L689.5 39 652.3 78 647.4 84 646.3 86 645.9 88 646.4 90 647.6 92 651.6 97 687.6 136 705 155.4M149.9 139L155 137.5 161 134.5 167 130.4 173 125.3 184 114.6 200.8 97 203.4 94 205.7 91 206.6 89 206.7 88 206.2 86 204.9 84 198.7 77 179 57 173 51.4 168 47.2 161 42.4 155 39.5 152 38.5 149 37.8 146 37.5 143 37.4M143 139.6L146 139.6 149.9 139M213 79.2L210 79.6 208 79.2 206 78.5 202 76.1 197 72.1 191 66.5 185.7 61 167 39.3 163 35.4 160 32.9 156 30.3 152 28.4 148 27.3 143 26.9M260.4 21L256.5 30 252.1 38 246.3 47 240.3 55 233.2 63 225 71 221 74.4 218 76.7 215 78.4 213 79.2M644 79.3L642 79.6 639 79.2 637 78.5 634 76.7 630 73.7 625 69.5 619.3 64 614.6 59 607.2 50 603.7 45 600.5 40 595.7 31 593.6 26 591.8 21M689.5 21L686.5 29 682.6 37 677.2 46 671.5 54 663.9 63 656 70.9 652 74.4 649 76.7 646 78.5 644 79.3M143 150.5L147 150.3 152 149 157 146.5 161 143.6 164 141 168 136.8 185.4 116 190 111 195 106 200 101.6 204 98.7 206 97.6 208 96.8 211 96.4 213 96.8 216 98 219 99.9 222 102.2 231 110.4 239 119 245.3 127 251.4 136 256.4 145 260.8 155M592 155.5L593.5 151 595.5 146 599.4 138 602.4 133 605.7 128 612.6 119 621 109.9 626 105.2 630 101.9 634 98.9 637 97.2 640 96.2 642 96.1 644 96.4 647 97.7 650 99.7 653 102.1 661 109.8 668.9 119 675.4 128 680.8 137 685.2 146 688.5 155M212 75L210 75.1 207 74.7 204 73.6 201 71.9 198 69.9 194 66.6 190.3 63 187.6 60 182.4 53 178.2 46 173.6 37 166 21M248.1 21L247.9 26 247.3 30 245.4 38 242.2 46 240.1 50 237.7 54 232.4 61 229 64.6 225 68.2 221 71.2 218 73 215 74.3 212 75M643 75L640 75.1 637 74.4 634 73.2 630 70.8 626 67.8 622 64.1 618.1 60 615 56 612.3 52 610.1 48 607.7 43 606.3 39 605.1 35 604.2 30 603.7 25 603.8 21M677.4 21L677.4 25 677.1 29 676.5 33 675.3 38 672.3 46 670.3 50 668 54 665.2 58 662 62 659 65.1 655 68.7 651 71.7 648 73.4 645 74.6 643 75M167.5 155L173.6 141 178.4 131 182.4 124 187.4 117 193 110.7 197 107.2 200 104.9 203 103.1 206 101.7 208 101.1 211 100.9 214 101.3 217 102.3 221 104.5 224 106.7 228 110 231 113 234.6 117 237.6 121 240.1 125 242.3 129 245.6 137 246.8 141 247.8 146 248.4 151 248.6 155M604.2 155L604.1 151 604.3 147 604.9 143 606 138 607.4 134 609.5 129 611.6 125 614.1 121 617 117 620.4 113 624 109.4 628 106.2 632 103.5 635 102 638 101 641 100.6 644 100.8 647 101.8 650 103.3 653 105.3 657 108.7 660.4 112 663.8 116 666.7 120 669.1 124 671.2 128 673.3 133 674.6 137 675.6 141 676.4 146 676.7 151 676.6 155M215 71.3L212 71.9 209 71.9 206 71.3 202 69.7 198 67.3 195 64.9 191.9 62 188.6 58 186 54 183.9 50 181.9 45 180.4 40 179.4 35 178.9 30 178.9 25 179.3 21M238.4 21L239.3 24 240.1 28 240.5 32 240.4 36 240.1 39 239.3 43 238.1 47 236.5 51 234.4 55 232.3 58 229.9 61 227 64 224 66.6 221 68.6 218 70.2 215 71.3M646 71.1L643 71.8 639 71.8 636 71.1 632 69.5 628 67 624.3 64 620.5 60 617.5 56 615.2 52 613.4 48 611.9 43 611 38 610.8 33 611.2 29 612 25 613.4 21M667.7 21L668.8 24 669.8 28 670.2 32 670.3 36 669.9 40 669.3 43 668.2 47 666.6 51 664.5 55 662.6 58 660.2 61 658 63.3 655 66 652 68.2 649 69.9 646 71.1M614 155.3L612.7 152 611.6 148 611.1 144 611 140 611.3 136 612.2 132 613.8 127 615.5 123 617.8 119 620.9 115 624 111.7 627 109.2 631 106.6 634 105.2 637 104.3 641 103.8 644 104 647 104.8 651 106.7 654 108.7 657.8 112 660.6 115 663.5 119 665.2 122 667 126 668.4 130 669.4 135 669.9 139 669.8 143 669.4 147 668.4 151 666.9 155M180.3 155L179.8 151 179.7 147 180 143 180.7 138 181.6 134 183.2 129 185 125 187.2 121 189.9 117 192.3 114 195 111.4 198 109 202 106.5 205 105.1 208 104.3 211 104 214 104.3 217 105.2 220 106.5 224 109.1 227.6 112 230.5 115 233.7 119 235.6 122 237.6 126 239.1 130 240.2 134 240.8 138 241 143 240.8 147 240.1 151 238.9 155M211 69L207 68.7 204 67.8 200 66 197 63.9 193.7 61 191.1 58 189.3 55 187.4 51 186.2 47 185.5 43 185.3 39 185.5 35 186.4 31 187.8 27 189.5 24 192 20.7M227.7 21L230 23.7 232.1 27 233.9 31 235 35 235.4 38 235.4 42 234.7 47 233.6 51 232.3 54 229.8 58 227.2 61 224 64.1 221 66.1 218 67.5 214 68.7 211 69M642 69L638 68.8 635 68.1 631 66.5 628 64.7 624.9 62 621.3 58 618.8 54 617.4 51 616.4 47 615.7 42 615.7 38 616.1 35 617.3 31 619 27.3 621.2 24 624 21M656.9 21L659.7 24 661.8 27 663.3 30 664.6 34 665.3 38 665.4 41 664.9 46 663.9 50 662.3 54 660.6 57 658.3 60 655 63.3 652 65.5 649 67.1 645 68.5 642 69M193 155.4L190.4 152 188.7 149 187.5 146 186.4 142 186 138 186.1 133 186.5 130 187.7 126 189.3 122 191 119 193.2 116 196 113.2 200 110.3 204 108.3 207 107.3 211 106.9 215 107.3 219 108.6 222 110.1 225 112.2 228 115 231.2 119 233 122 234.6 126 235.6 130 236.1 134 236 138 235.3 142 234.1 146 232.7 149 230.8 152 228 155.2M625 155L622 152.1 620 149.5 618 145.9 616.6 142 615.8 138 615.8 134 616.4 129 617.4 125 619.1 121 620.9 118 624 114.1 627 111.4 631 109 634 107.7 637 107 641 106.8 645 107.1 648 108 651 109.4 655 112.1 658 115 660.3 118 662.1 121 663.7 125 664.7 129 665.2 134 665 138 664.2 142 663 145.4 661 149.1 658.9 152 655.9 155M187 63.7L171 47 166 42.4 162 39.2 158 36.7 153 34.3 148 33 143 32.7M268 20.6L261.1 31 253.7 41 244.5 52 234.4 63M617.2 63L607.8 53 598.6 42 590.7 31 584.6 21M696.6 21L690.6 31 683.6 41 674.9 52 665 63.2M585 155.1L591.5 144 598.6 134 607.7 123 617 112.8M665 112.8L673.7 123 682.2 134 689.6 145 695.4 155M143 144.4L147 144.3 152 143.2 157 141 162 137.9 166 134.7 171 130 187 112.8M234.8 113L244 123 253.3 134 261.5 145 268.1 155M188 62L184.6 58 180.7 53 170 37.5 165 30.8 162 27.3 159 24.3 154 20.6M253.8 21L252.4 27 250.9 32 248.9 37 246.6 42 243.9 47 240.7 52 237 57 232.8 62M619 62.3L615.2 58 611.3 53 607.4 47 604.7 42 602.5 37 600.7 32 599.3 27 598.2 21M683 20.8L682.1 26 680.6 32 678.8 37 676.7 42 674.1 47 671 52 667.5 57 664 61.3M157 155.3L161 151.7 166 145.7 180.6 124 184.4 119 188.5 114M233.2 114L236.7 118 240.5 123 243.8 128 246.6 133 249.4 139 251.4 144 253.1 150 254.2 155M598.6 155L599.4 150 600.5 145 602.6 139 604.8 134 607.4 129 610.5 124 614.1 119 618.3 114M663.5 114L666.7 118 670.2 123 673.7 129 676.2 134 678.6 140 680.2 145 681.4 150 682.1 155M189.7 61L187.3 58 184.5 54 181.7 49 179.4 44 177.5 39 175.6 33 174.1 27 173.1 21M243.3 21L243.8 26 243.7 31 243.1 36 242 41 240.3 46 237.5 52 235 56 232 60M620.2 61L616.9 57 613.8 52 611.3 47 609.5 42 608.3 37 607.7 31 607.8 26 608.6 21M672.5 21L673.3 26 673.5 31 673 36 672 41 670.4 46 668.2 51 665.3 56 662 60.4M174.3 155L174.9 150 176.2 144 177.6 139 179.7 133 181.9 128 184.6 123 187.1 119 190 115.3M231.7 115L234.9 119 238.1 124 240.5 129 242.3 134 243.5 139 244.3 145 244.3 150 243.7 155M609 155L608.1 150 607.9 145 608.3 140 609.3 135 611.3 129 613.6 124 616.6 119 620 114.7M662 115.3L665.4 120 667.6 124 669.8 129 671.7 135 672.6 140 672.9 145 672.7 150 671.8 155M191.4 60L188.5 56 186.4 52 184.5 47 183.1 41 182.5 35 182.8 30 183.8 25 185.3 21M233.4 21L235.4 25 237 30 237.7 35 237.7 40 236.6 46 235 51 233 55 230 59.4M621.7 60L618.7 56 616.1 51 614.5 46 613.5 40 613.5 35 614.3 30 616 25.3 618.4 21M662.6 21L665 25.2 666.7 30 667.6 35 667.6 40 666.9 45 665.5 50 663.2 55 660.5 59M186.3 155L184.7 151 183.6 146 183.3 141 183.6 136 184.5 131 186.1 126 188.5 121 191.1 117M230.2 116L233.1 120 235.7 125 237.3 130 238.2 135 238.3 140 237.7 145 236.3 150 233.9 155M619 155L616.6 151 614.6 146 613.7 141 613.6 136 614.3 131 616 125 618.4 120 621.2 116M660.9 117L663.4 121 665.5 126 666.9 132 667.4 137 667 142 666 146.5 664.2 151 661.8 155M710 40.6L704 42.5 699 44.4 693 47.2 687 50.5 681 54.4 676 58.1 671 62.3 666 67M665.7 109L671 114.1 676 118.4 681 122.2 687 126.3 693 129.7 699 132.6 704 134.5 710 136.4M146.1 130L151 129.5 157 128 162 126.2 168 123.2 174 119.5 179 115.7 184 111.3 189.2 106M189.7 71L184 65.3 178 60.1 172 55.8 166 52.4 160 49.7 154 47.9 148 46.9 143 46.7M143 130L146.1 130M709.8 126L710 126M710 50.9L704 51 698 51.8 692 53.3 686 55.5 680 58.6 675 61.7 670 65.6 665.4 70M665.1 106L670 110.8 675 114.9 680 118.1 686 121.2 692 123.5 698 125.1 704 125.9 709.8 126M151 124L157 123.1 162 121.8 167 120 172 117.7 177 114.6 182 110.8 186 107.1 189.6 103M189.2 73L185 68.4 180 64.1 175 60.6 169 57.4 163 55.1 157 53.6 150 52.6 143 52.3M143 124.4L151 124M159.9 118L164 117.3 169 115.9 173 114.3 177 112.1 181 109.3 184 106.7 186.5 104 189.5 100M189.9 77L186.1 72 181 67.2 176 63.8 171 61.3 166 59.7 160 58.5 153 58.1 143 58M143 118.6L153 118.5 159.9 118M705 118L710 116.4M710 60.4L704 58.6 698 57.9 692 58.2 686 59.5 680 61.7 675 64.4 670 68 667.8 70 665.1 73M665.6 104L669 107.6 674 111.6 679 114.6 684 116.6 690 118.2 695 118.8 700 118.8 705 118M169 113L172 112.1 176 110.3 179 108.5 182.3 106 184.4 104 186.7 101 188.5 98 189.8 95M189.7 81L188.3 78 187 76 185.5 74 183 71.3 181 69.4 178 67.2 173 64.7 167 63 162 62.5 157 62.7 147 63.8 143 63.8M143 112.7L147 112.8 160 114 165 113.7 169 113M694.6 114L699 113.1 703 111.6 707 109.2 710 106.8M710.1 70L707.7 68 705 66.2 702 64.7 699 63.6 696 63 693 62.6 690 62.6 687 62.9 683 63.6 680 64.5 675 66.8 672 68.8 669.3 71 667.4 73 665.2 76M665.4 101L668.7 105 671 107 675 109.8 679 111.9 683 113.2 687 114 691 114.2 694.6 114M231.5 62.0C232.2 61.4 233.5 60.2 236.0 58.6C238.5 57.0 241.3 55.3 246.7 52.2C252.1 49.1 262.1 43.0 268.5 40.2C274.9 37.4 280.2 36.5 284.8 35.3C289.4 34.1 292.0 33.5 296.0 33.0C300.0 32.5 304.2 32.2 309.0 32.4C313.8 32.6 319.4 33.4 325.0 34.3C330.6 35.1 335.1 35.8 342.8 37.5C350.5 39.2 361.6 42.2 371.0 44.6C380.4 47.0 390.2 49.6 399.0 51.6C407.8 53.6 415.8 56.2 424.0 56.4C432.2 56.6 439.5 55.0 448.2 53.0C456.9 51.0 467.0 47.2 476.4 44.6C485.8 42.0 495.2 39.4 504.6 37.5C514.0 35.6 524.4 33.9 532.8 33.3C541.2 32.6 548.6 33.0 555.0 33.6C561.4 34.2 565.9 35.2 571.3 37.0C576.7 38.8 582.7 42.1 587.6 44.6C592.5 47.1 596.7 49.9 600.7 52.2C604.7 54.6 608.4 56.6 611.5 58.7C614.6 60.8 618.2 64.0 619.5 65.0M232.0 111.0C232.7 111.5 233.5 112.2 235.9 113.8C238.3 115.3 242.2 117.7 246.7 120.3C251.2 122.9 257.6 126.8 263.0 129.5C268.4 132.2 274.0 134.4 279.3 136.6C284.6 138.8 288.7 141.2 294.6 142.6C300.5 144.0 308.4 144.4 314.6 144.9C320.8 145.4 324.5 146.2 331.6 145.7C338.7 145.2 348.1 143.9 357.0 142.0C365.9 140.1 375.7 136.5 385.0 134.5C394.3 132.5 405.5 131.0 413.0 130.0C420.5 129.0 424.1 128.4 430.0 128.5C435.9 128.6 440.5 129.3 448.2 130.8C455.9 132.3 467.0 135.2 476.4 137.3C485.8 139.4 496.1 142.1 504.6 143.5C513.1 144.9 520.1 145.7 527.2 145.7C534.3 145.7 542.4 144.2 547.0 143.5C551.6 142.8 551.9 142.6 555.0 141.8C558.1 141.0 561.4 140.4 565.9 138.8C570.4 137.2 576.8 134.7 582.2 132.3C587.6 130.0 594.0 127.1 598.5 124.7C603.0 122.3 606.0 120.4 609.3 118.1C612.5 115.8 616.5 112.2 618.0 111.0"/>
<circle cx="210.6" cy="45.1" r="23.1" fill="#f6f6f6"/>
<circle cx="210.6" cy="45.1" r="21.3" fill="url(#pb)"/>
<circle cx="211.2" cy="130.8" r="23.1" fill="#f6f6f6"/>
<circle cx="211.2" cy="130.8" r="21.3" fill="url(#pb)"/>
<circle cx="166.8" cy="88.2" r="23.1" fill="#f6f6f6"/>
<circle cx="166.8" cy="88.2" r="21.3" fill="url(#pb)"/>
<circle cx="253.7" cy="88.2" r="23.1" fill="#f6f6f6"/>
<circle cx="253.7" cy="88.2" r="21.3" fill="url(#pb)"/>
<circle cx="640.4" cy="45.1" r="23.1" fill="#f6f6f6"/>
<circle cx="640.4" cy="45.1" r="21.3" fill="url(#pb)"/>
<circle cx="640.4" cy="130.3" r="23.1" fill="#f6f6f6"/>
<circle cx="640.4" cy="130.3" r="21.3" fill="url(#pb)"/>
<circle cx="598.7" cy="88" r="23.1" fill="#f6f6f6"/>
<circle cx="598.7" cy="88" r="21.3" fill="url(#pb)"/>
<circle cx="685.4" cy="88.4" r="23.1" fill="#f6f6f6"/>
<circle cx="685.4" cy="88.4" r="21.3" fill="url(#pb)"/>
<clipPath id="cg0"><circle cx="210.6" cy="45.1" r="21.3"/></clipPath>
<path clip-path="url(#cg0)" stroke="#765839" stroke-width="1.2" fill="none" d="M204.6 23.8V66.4M218.1 23.8V66.4M189.3 40.9H231.9M189.3 54.4H231.9"/>
<clipPath id="cg1"><circle cx="211.2" cy="130.8" r="21.3"/></clipPath>
<path clip-path="url(#cg1)" stroke="#765839" stroke-width="1.2" fill="none" d="M205.2 109.5V152.1M218.7 109.5V152.1M189.9 126.6H232.5M189.9 140.1H232.5"/>
<clipPath id="cg2"><circle cx="166.8" cy="88.2" r="21.3"/></clipPath>
<path clip-path="url(#cg2)" stroke="#765839" stroke-width="1.2" fill="none" d="M160.8 66.9V109.5M174.3 66.9V109.5M145.5 84H188.1M145.5 97.5H188.1"/>
<clipPath id="cg3"><circle cx="253.7" cy="88.2" r="21.3"/></clipPath>
<path clip-path="url(#cg3)" stroke="#765839" stroke-width="1.2" fill="none" d="M247.7 66.9V109.5M261.2 66.9V109.5M232.4 84H275M232.4 97.5H275"/>
<clipPath id="cg4"><circle cx="640.4" cy="45.1" r="21.3"/></clipPath>
<path clip-path="url(#cg4)" stroke="#765839" stroke-width="1.2" fill="none" d="M634.4 23.8V66.4M647.9 23.8V66.4M619.1 40.9H661.7M619.1 54.4H661.7"/>
<clipPath id="cg5"><circle cx="640.4" cy="130.3" r="21.3"/></clipPath>
<path clip-path="url(#cg5)" stroke="#765839" stroke-width="1.2" fill="none" d="M634.4 109V151.6M647.9 109V151.6M619.1 126.1H661.7M619.1 139.6H661.7"/>
<clipPath id="cg6"><circle cx="598.7" cy="88" r="21.3"/></clipPath>
<path clip-path="url(#cg6)" stroke="#765839" stroke-width="1.2" fill="none" d="M592.7 66.7V109.3M606.2 66.7V109.3M577.4 83.8H620M577.4 97.3H620"/>
<clipPath id="cg7"><circle cx="685.4" cy="88.4" r="21.3"/></clipPath>
<path clip-path="url(#cg7)" stroke="#765839" stroke-width="1.2" fill="none" d="M679.4 67.1V109.7M692.9 67.1V109.7M664.1 84.2H706.7M664.1 97.7H706.7"/>
</g>
<g fill="none" stroke="#000" stroke-width="1.9" stroke-linejoin="miter">
<path d="M211.1 56.8V89.3H180"/><path d="M204.3 63.4L211.1 56.6L218 63.4"/><path d="M186.2 82.3L179.6 89.3L186.2 96.1"/>
<path d="M641.2 56.4V88.9H672.8"/><path d="M634.3 63.3L641.2 56.2L648.2 63.3"/><path d="M666.3 82.3L673.2 88.9L666.3 95.5"/>
</g>
<g font-family='"Liberation Serif", "Times New Roman", Times, serif' font-style="italic" font-weight="bold" font-size="17.5" fill="#14142a">
<text x="206.3" y="49.5">y</text><text x="165" y="93.9">x</text>
<text x="640.5" y="51.5">y</text><text x="678.6" y="92.6">x</text>
</g>
<g font-family='"Liberation Sans", Arial, Helvetica, sans-serif' font-weight="bold" font-size="20.6" fill="#000">
<text x="0" y="14.6">(a)</text><text x="143.3" y="14.4">(b)</text>
<text x="-0.3" y="186.2">(c)</text><text x="363.3" y="186.2">(d)</text>
</g>
<g stroke="#000" stroke-width="2.2" fill="none"><path d="M49.9 197.2V419.4"/><path d="M48.8 418.3H347.5"/><path stroke-width="2.1" d="M44.7 399.6H49.9M44.7 363.0H49.9M44.7 326.4H49.9M44.7 289.9H49.9M44.7 253.3H49.9M44.7 216.7H49.9M46.9 417.9H49.9M46.9 381.3H49.9M46.9 344.7H49.9M46.9 308.2H49.9M46.9 271.6H49.9M46.9 235.0H49.9M46.9 198.4H49.9M79.3 418.3V423.5M138.4 418.3V423.5M197.6 418.3V423.5M256.8 418.3V423.5M315.9 418.3V423.5M49.7 418.3V421.3M108.9 418.3V421.3M168.0 418.3V421.3M227.2 418.3V421.3M286.3 418.3V421.3M345.5 418.3V421.3"/></g><g font-family='"Liberation Sans", Arial, Helvetica, sans-serif' font-size="12.7" fill="#000"><text x="42.8" y="403.9" text-anchor="end">0</text><text x="42.8" y="367.3" text-anchor="end">200</text><text x="42.8" y="330.7" text-anchor="end">400</text><text x="42.8" y="294.2" text-anchor="end">600</text><text x="42.8" y="257.6" text-anchor="end">800</text><text x="42.8" y="221.0" text-anchor="end">1000</text><text x="79.8" y="435.8" text-anchor="middle" letter-spacing="0.9">-1.0</text><text x="138.9" y="435.8" text-anchor="middle" letter-spacing="0.9">-0.5</text><text x="197.6" y="435.8" text-anchor="middle">0.0</text><text x="256.8" y="435.8" text-anchor="middle">0.5</text><text x="315.9" y="435.8" text-anchor="middle">1.0</text></g>
<path fill="none" stroke="#000" stroke-width="4.8" stroke-linecap="round" stroke-linejoin="round" d="M80.4 218.4 82.3 224.3 84.2 230.1 86.2 235.8 88.1 241.4 90.0 246.9 92.0 252.4 93.9 257.7 95.8 262.9 97.8 268.0 99.7 273.1 101.6 278.0 103.6 282.8 105.5 287.6 107.4 292.2 109.4 296.7 111.3 301.2 113.2 305.5 115.2 309.8 117.1 313.9 119.0 318.0 120.9 321.9 122.9 325.8 124.8 329.5 126.7 333.2 128.7 336.7 130.6 340.2 132.5 343.6 134.5 346.8 136.4 350.0 138.3 353.1 140.3 356.0 142.2 358.9 144.1 361.7 146.1 364.4 148.0 366.9 149.9 369.4 151.9 371.8 153.8 374.1 155.7 376.3 157.7 378.4 159.6 380.4 161.5 382.3 163.5 384.0 165.4 385.7 167.3 387.3 169.3 388.8 171.2 390.2 173.1 391.6 175.1 392.8 177.0 393.9 178.9 394.9 180.9 395.8 182.8 396.6 184.7 397.3 186.7 397.9 188.6 398.5 190.5 398.9 192.5 399.2 194.4 399.4 196.3 399.6 198.3 399.6 200.2 399.5 202.1 399.4 204.0 399.1 206.0 398.7 207.9 398.3 209.8 397.7 211.8 397.1 213.7 396.3 215.6 395.5 217.6 394.5 219.5 393.5 221.4 392.3 223.4 391.1 225.3 389.7 227.2 388.3 229.2 386.8 231.1 385.1 233.0 383.4 235.0 381.6 236.9 379.6 238.8 377.6 240.8 375.5 242.7 373.3 244.6 370.9 246.6 368.5 248.5 366.0 250.4 363.4 252.4 360.7 254.3 357.9 256.2 355.0 258.2 351.9 260.1 348.8 262.0 345.6 264.0 342.3 265.9 338.9 267.8 335.4 269.8 331.8 271.7 328.1 273.6 324.4 275.6 320.5 277.5 316.5 279.4 312.4 281.4 308.2 283.3 303.9 285.2 299.5 287.1 295.1 289.1 290.5 291.0 285.8 292.9 281.1 294.9 276.2 296.8 271.2 298.7 266.1 300.7 261.0 302.6 255.7 304.5 250.4 306.5 244.9 308.4 239.3 310.3 233.7"/>
<path fill="none" stroke="#b80000" stroke-width="1.6" stroke-linejoin="round" d="M80.4 218.4 82.3 224.3 84.2 230.1 86.2 235.8 88.1 241.4 90.0 246.9 92.0 252.4 93.9 257.7 95.8 262.9 97.8 268.0 99.7 273.1 101.6 278.0 103.6 282.8 105.5 287.6 107.4 292.2 109.4 296.7 111.3 301.2 113.2 305.5 115.2 309.8 117.1 313.9 119.0 318.0 120.9 321.9 122.9 325.8 124.8 329.5 126.7 333.2 128.7 336.7 130.6 340.2 132.5 343.6 134.5 346.8 136.4 350.0 138.3 353.1 140.3 356.0 142.2 358.9 144.1 361.7 146.1 364.4 148.0 366.9 149.9 369.4 151.9 371.8 153.8 374.1 155.7 376.3 157.7 378.4 159.6 380.4 161.5 382.3 163.5 384.0 165.4 385.7 167.3 387.3 169.3 388.8 171.2 390.2 173.1 391.6 175.1 392.8 177.0 393.9 178.9 394.9 180.9 395.8 182.8 396.6 184.7 397.3 186.7 397.9 188.6 398.5 190.5 398.9 192.5 399.2 194.4 399.4 196.3 399.6 198.3 399.6 200.2 399.5 202.1 399.4 204.0 399.1 206.0 398.7 207.9 398.3 209.8 397.7 211.8 397.1 213.7 396.3 215.6 395.5 217.6 394.5 219.5 393.5 221.4 392.3 223.4 391.1 225.3 389.7 227.2 388.3 229.2 386.8 231.1 385.1 233.0 383.4 235.0 381.6 236.9 379.6 238.8 377.6 240.8 375.5 242.7 373.3 244.6 370.9 246.6 368.5 248.5 366.0 250.4 363.4 252.4 360.7 254.3 357.9 256.2 355.0 258.2 351.9 260.1 348.8 262.0 345.6 264.0 342.3 265.9 338.9 267.8 335.4 269.8 331.8 271.7 328.1 273.6 324.4 275.6 320.5 277.5 316.5 279.4 312.4 281.4 308.2 283.3 303.9 285.2 299.5 287.1 295.1 289.1 290.5 291.0 285.8 292.9 281.1 294.9 276.2 296.8 271.2 298.7 266.1 300.7 261.0 302.6 255.7 304.5 250.4 306.5 244.9 308.4 239.3 310.3 233.7"/>
<path d="M104.3 204H126.5" stroke="#000" stroke-width="4.5"/>
<path d="M105 220.7H125.4" stroke="#f28888" stroke-width="1.8"/>
<g font-family='"Liberation Sans", Arial, Helvetica, sans-serif' font-weight="bold" font-size="13">
<text x="131" y="207.9" fill="#000">numerical potential</text>
<text x="131" y="223.8" fill="#f00">polynomial fitted potential</text>
</g>
<text transform="translate(9.9,308.3) rotate(-90)" text-anchor="middle" font-family='"Liberation Sans", Arial, Helvetica, sans-serif' font-weight="bold" font-size="13.2">potential</text>
<text x="184" y="454.8" font-family='"Liberation Serif", "Times New Roman", Times, serif' font-weight="bold" font-style="italic" font-size="22">x/r<tspan font-family='"Liberation Sans", Arial, Helvetica, sans-serif' font-style="normal" font-weight="bold" font-size="11.5" dy="5.2">0</tspan></text>
<g stroke="#000" stroke-width="2.2" fill="none"><path d="M407.3 201.4V420.9"/><path d="M406.2 419.8H700.5"/><path stroke-width="2.1" d="M402.1 400.4H407.3M402.1 360.7H407.3M402.1 321.0H407.3M402.1 281.3H407.3M402.1 241.6H407.3M402.1 201.9H407.3M404.3 420.2H407.3M404.3 380.5H407.3M404.3 340.8H407.3M404.3 301.1H407.3M404.3 261.4H407.3M404.3 221.7H407.3M407.2 419.8V425.0M455.9 419.8V425.0M504.6 419.8V425.0M553.3 419.8V425.0M602.0 419.8V425.0M650.7 419.8V425.0M699.4 419.8V425.0M431.5 419.8V422.8M480.2 419.8V422.8M528.9 419.8V422.8M577.6 419.8V422.8M626.3 419.8V422.8M675.0 419.8V422.8"/></g><g font-family='"Liberation Sans", Arial, Helvetica, sans-serif' font-size="12.7" fill="#000"><text x="399.6" y="404.7" text-anchor="end">0</text><text x="399.6" y="365.0" text-anchor="end">20</text><text x="399.6" y="325.3" text-anchor="end">40</text><text x="399.6" y="285.6" text-anchor="end">60</text><text x="399.6" y="245.9" text-anchor="end">80</text><text x="399.6" y="206.2" text-anchor="end">100</text><text x="407.6" y="437.5" text-anchor="middle" letter-spacing="0.9">-0.3</text><text x="456.3" y="437.5" text-anchor="middle" letter-spacing="0.9">-0.2</text><text x="505.0" y="437.5" text-anchor="middle" letter-spacing="0.9">-0.1</text><text x="553.3" y="437.5" text-anchor="middle">0.0</text><text x="602.0" y="437.5" text-anchor="middle">0.1</text><text x="650.7" y="437.5" text-anchor="middle">0.2</text><text x="699.4" y="437.5" text-anchor="middle">0.3</text></g>
<path fill="none" stroke="#000" stroke-width="2.5" stroke-linejoin="round" d="M407.2 222.9 410.2 230.1 413.1 237.0 416.1 243.9 419.0 250.6 422.0 257.1 424.9 263.5 427.9 269.7 430.8 275.8 433.8 281.8 436.7 287.6 439.7 293.3 442.6 298.8 445.6 304.1 448.5 309.4 451.5 314.4 454.4 319.4 457.4 324.2 460.3 328.8 463.3 333.3 466.2 337.7 469.2 341.9 472.1 345.9 475.1 349.8 478.0 353.6 481.0 357.2 483.9 360.7 486.9 364.0 489.8 367.2 492.8 370.3 495.7 373.1 498.7 375.9 501.6 378.5 504.6 380.9 507.6 383.3 510.5 385.4 513.5 387.4 516.4 389.3 519.4 391.0 522.3 392.6 525.3 394.0 528.2 395.3 531.2 396.5 534.1 397.5 537.1 398.3 540.0 399.0 543.0 399.6 545.9 400.0 548.9 400.3 551.8 400.4 554.8 400.4 557.7 400.2 560.7 399.9 563.6 399.4 566.6 398.8 569.5 398.1 572.5 397.2 575.4 396.1 578.4 394.9 581.3 393.6 584.3 392.1 587.2 390.5 590.2 388.7 593.1 386.8 596.1 384.7 599.0 382.5 602.0 380.2 605.0 377.6 607.9 375.0 610.9 372.2 613.8 369.3 616.8 366.2 619.7 362.9 622.7 359.6 625.6 356.0 628.6 352.4 631.5 348.6 634.5 344.6 637.4 340.5 640.4 336.2 643.3 331.8 646.3 327.3 649.2 322.6 652.2 317.8 655.1 312.8 658.1 307.7 661.0 302.4 664.0 297.0 666.9 291.4 669.9 285.7 672.8 279.8 675.8 273.8 678.7 267.7 681.7 261.4 684.6 254.9 687.6 248.4 690.5 241.6 693.5 234.8 696.4 227.7 699.4 220.6"/>
<path fill="none" stroke="#f00" stroke-width="2.5" stroke-linejoin="round" d="M407.2 243.2 410.2 249.6 413.1 255.9 416.1 262.0 419.0 268.1 422.0 274.0 424.9 279.8 427.9 285.5 430.8 291.1 433.8 296.5 436.7 301.8 439.7 307.0 442.6 312.1 445.6 317.0 448.5 321.9 451.5 326.5 454.4 331.1 457.4 335.5 460.3 339.8 463.3 343.9 466.2 347.9 469.2 351.8 472.1 355.6 475.1 359.2 478.0 362.6 481.0 365.9 483.9 369.1 486.9 372.1 489.8 375.0 492.8 377.8 495.7 380.4 498.7 382.9 501.6 385.2 504.6 387.3 507.6 389.4 510.5 391.2 513.5 393.0 516.4 394.6 519.4 396.0 522.3 397.3 525.3 398.4 528.2 399.4 531.2 400.2 534.1 400.9 537.1 401.5 540.0 401.8 543.0 402.1 545.9 402.1 548.9 402.1 551.8 401.9 554.8 401.5 557.7 401.0 560.7 400.3 563.6 399.4 566.6 398.5 569.5 397.3 572.5 396.1 575.4 394.6 578.4 393.0 581.3 391.3 584.3 389.4 587.2 387.4 590.2 385.2 593.1 382.8 596.1 380.3 599.0 377.7 602.0 374.9 605.0 372.0 607.9 368.9 610.9 365.7 613.8 362.3 616.8 358.8 619.7 355.1 622.7 351.3 625.6 347.3 628.6 343.2 631.5 339.0 634.5 334.6 637.4 330.0 640.4 325.4 643.3 320.5 646.3 315.6 649.2 310.5 652.2 305.3 655.1 299.9 658.1 294.4 661.0 288.8 664.0 283.0 666.9 277.1 669.9 271.0 672.8 264.9 675.8 258.6 678.7 252.2 681.7 245.6 684.6 238.9 687.6 232.1 690.5 225.2 693.5 218.1 696.4 211.0 699.4 203.7"/>
<path d="M498 216H520.1" stroke="#000" stroke-width="2.6"/>
<path d="M498 231.8H520.1" stroke="#f00" stroke-width="2.8"/>
<g font-family='"Liberation Sans", Arial, Helvetica, sans-serif' font-weight="bold" font-size="12.7">
<text x="524" y="218.8" fill="#000">linear quadrupole</text>
<text x="524" y="235.4" fill="#f00">curved quadrupole</text>
</g>
<text transform="translate(374.6,312.7) rotate(-90)" text-anchor="middle" font-family='"Liberation Sans", Arial, Helvetica, sans-serif' font-weight="bold" font-size="13.2">potential</text>
<text x="542.5" y="455.7" font-family='"Liberation Serif", "Times New Roman", Times, serif' font-weight="bold" font-style="italic" font-size="22">x/r<tspan font-family='"Liberation Sans", Arial, Helvetica, sans-serif' font-style="normal" font-weight="bold" font-size="11.5" dy="5.2">0</tspan></text>
</svg>
</body></html>
